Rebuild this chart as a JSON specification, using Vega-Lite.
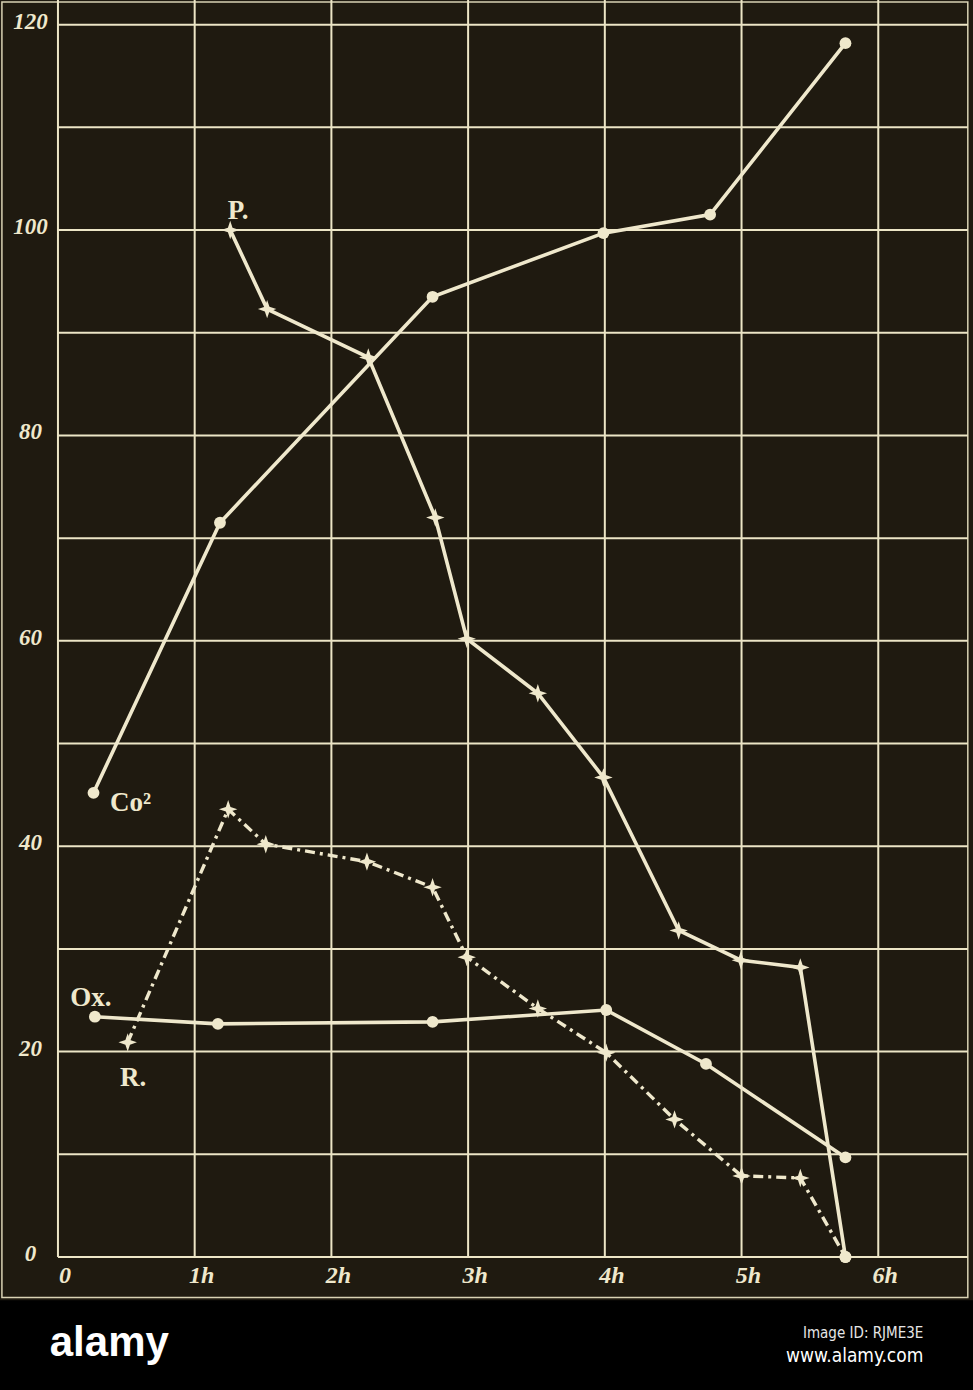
{
  "$schema": "https://vega.github.io/schema/vega-lite/v6.json",
  "width": 973,
  "height": 1390,
  "autosize": {"type": "none"},
  "padding": 0,
  "background": "#000000",
  "data": {"values": [{}]},
  "datasets": {
    "series": [
      {"s": "CO2", "t": 0.26, "v": 45.2},
      {"s": "CO2", "t": 1.185, "v": 71.5},
      {"s": "CO2", "t": 2.74, "v": 93.5},
      {"s": "CO2", "t": 3.99, "v": 99.7},
      {"s": "CO2", "t": 4.77, "v": 101.5},
      {"s": "CO2", "t": 5.76, "v": 118.2},
      {"s": "P", "t": 1.26, "v": 100},
      {"s": "P", "t": 1.53, "v": 92.3},
      {"s": "P", "t": 2.27, "v": 87.6},
      {"s": "P", "t": 2.76, "v": 72},
      {"s": "P", "t": 2.99, "v": 60.2},
      {"s": "P", "t": 3.51, "v": 54.9},
      {"s": "P", "t": 3.99, "v": 46.7},
      {"s": "P", "t": 4.54, "v": 31.8},
      {"s": "P", "t": 4.995, "v": 28.9},
      {"s": "P", "t": 5.43, "v": 28.2},
      {"s": "P", "t": 5.76, "v": 0},
      {"s": "Ox", "t": 0.27, "v": 23.4},
      {"s": "Ox", "t": 1.17, "v": 22.7},
      {"s": "Ox", "t": 2.74, "v": 22.9},
      {"s": "Ox", "t": 4.01, "v": 24.05},
      {"s": "Ox", "t": 4.74, "v": 18.8},
      {"s": "Ox", "t": 5.76, "v": 9.7},
      {"s": "R", "t": 0.51, "v": 20.9},
      {"s": "R", "t": 1.245, "v": 43.6},
      {"s": "R", "t": 1.52, "v": 40.2},
      {"s": "R", "t": 2.26, "v": 38.5},
      {"s": "R", "t": 2.74, "v": 36},
      {"s": "R", "t": 2.99, "v": 29.2},
      {"s": "R", "t": 3.51, "v": 24.2},
      {"s": "R", "t": 4.01, "v": 19.9},
      {"s": "R", "t": 4.51, "v": 13.4},
      {"s": "R", "t": 5.0, "v": 7.9},
      {"s": "R", "t": 5.43, "v": 7.7},
      {"s": "R", "t": 5.76, "v": 0}
    ],
    "hgrid": [
      {"v": 0}, {"v": 10}, {"v": 20}, {"v": 30}, {"v": 40}, {"v": 50}, {"v": 60},
      {"v": 70}, {"v": 80}, {"v": 90}, {"v": 100}, {"v": 110}, {"v": 120}
    ],
    "vgrid": [
      {"t": 0}, {"t": 1}, {"t": 2}, {"t": 3}, {"t": 4}, {"t": 5}, {"t": 6}
    ],
    "ylabels": [
      {"label": "0", "v": 0},
      {"label": "20", "v": 20},
      {"label": "40", "v": 40},
      {"label": "60", "v": 60},
      {"label": "80", "v": 80},
      {"label": "100", "v": 100},
      {"label": "120", "v": 120}
    ],
    "xlabels": [
      {"label": "0", "t": 0},
      {"label": "1h", "t": 1},
      {"label": "2h", "t": 2},
      {"label": "3h", "t": 3},
      {"label": "4h", "t": 4},
      {"label": "5h", "t": 5},
      {"label": "6h", "t": 6}
    ],
    "names": [
      {"label": "P.", "t": 1.317, "v": 101.9},
      {"label": "Co²", "t": 0.53, "v": 44.2},
      {"label": "Ox.", "t": 0.24, "v": 25.2},
      {"label": "R.", "t": 0.55, "v": 17.4}
    ]
  },
  "encoding": {
    "x": {"type": "quantitative", "scale": {"domain": [-0.424, 6.693], "nice": false, "zero": false}, "axis": null},
    "y": {"type": "quantitative", "scale": {"domain": [-12.95, 122.4], "nice": false, "zero": false}, "axis": null}
  },
  "layer": [
    {
      "mark": {"type": "rect", "fill": "#000000"},
      "encoding": {
        "x": {"datum": -0.424},
        "x2": {"datum": 6.693},
        "y": {"datum": -4.2},
        "y2": {"datum": -12.95}
      }
    },
    {
      "mark": {"type": "rect", "filled": false, "stroke": "#d9d2b4", "strokeWidth": 1.5},
      "encoding": {
        "x": {"datum": -0.41},
        "x2": {"datum": 6.655},
        "y": {"datum": 122.2},
        "y2": {"datum": -3.95}
      }
    },
    {
      "data": {"name": "hgrid"},
      "mark": {"type": "rule", "stroke": "#ece5c6", "strokeWidth": 2},
      "encoding": {
        "x": {"datum": 0},
        "x2": {"datum": 6.655},
        "y": {"field": "v", "type": "quantitative"}
      }
    },
    {
      "data": {"name": "vgrid"},
      "mark": {"type": "rule", "stroke": "#ece5c6", "strokeWidth": 2},
      "encoding": {
        "x": {"field": "t", "type": "quantitative"},
        "y": {"datum": 0},
        "y2": {"datum": 122.4}
      }
    },
    {
      "data": {"name": "series"},
      "transform": [{"filter": "datum.s != 'R'"}],
      "mark": {"type": "line", "stroke": "#efe8cc", "strokeWidth": 3.6},
      "encoding": {
        "x": {"field": "t", "type": "quantitative"},
        "y": {"field": "v", "type": "quantitative"},
        "detail": {"field": "s"}
      }
    },
    {
      "data": {"name": "series"},
      "transform": [{"filter": "datum.s == 'R'"}],
      "mark": {"type": "line", "stroke": "#efe8cc", "strokeWidth": 3.4, "strokeDash": [10, 5, 3, 5]},
      "encoding": {
        "x": {"field": "t", "type": "quantitative"},
        "y": {"field": "v", "type": "quantitative"}
      }
    },
    {
      "data": {"name": "series"},
      "transform": [{"filter": "datum.s == 'CO2' || datum.s == 'Ox' || datum.v == 0"}],
      "mark": {"type": "point", "shape": "circle", "filled": true, "fill": "#efe8cc", "size": 140, "opacity": 1},
      "encoding": {
        "x": {"field": "t", "type": "quantitative"},
        "y": {"field": "v", "type": "quantitative"}
      }
    },
    {
      "data": {"name": "series"},
      "transform": [{"filter": "(datum.s == 'P' || datum.s == 'R') && datum.v > 0"}],
      "mark": {
        "type": "point",
        "shape": "M0,-1L0.25,-0.25L1,0L0.25,0.25L0,1L-0.25,0.25L-1,0L-0.25,-0.25Z",
        "filled": true,
        "fill": "#efe8cc",
        "size": 340,
        "opacity": 1
      },
      "encoding": {
        "x": {"field": "t", "type": "quantitative"},
        "y": {"field": "v", "type": "quantitative"}
      }
    },
    {
      "data": {"name": "ylabels"},
      "mark": {
        "type": "text",
        "font": "Liberation Serif",
        "fontStyle": "italic",
        "fontWeight": "bold",
        "fontSize": 23,
        "fill": "#efe8cc",
        "align": "center",
        "baseline": "middle",
        "dy": -3
      },
      "encoding": {
        "x": {"datum": -0.2},
        "y": {"field": "v", "type": "quantitative"},
        "text": {"field": "label"}
      }
    },
    {
      "data": {"name": "xlabels"},
      "mark": {
        "type": "text",
        "font": "Liberation Serif",
        "fontStyle": "italic",
        "fontWeight": "bold",
        "fontSize": 24,
        "fill": "#efe8cc",
        "align": "center",
        "baseline": "middle",
        "dx": 7
      },
      "encoding": {
        "x": {"field": "t", "type": "quantitative"},
        "y": {"datum": -1.85},
        "text": {"field": "label"}
      }
    },
    {
      "data": {"name": "names"},
      "mark": {
        "type": "text",
        "font": "Liberation Serif",
        "fontWeight": "bold",
        "fontSize": 27,
        "fill": "#efe8cc",
        "align": "center",
        "baseline": "middle"
      },
      "encoding": {
        "x": {"field": "t", "type": "quantitative"},
        "y": {"field": "v", "type": "quantitative"},
        "text": {"field": "label"}
      }
    },
    {
      "mark": {
        "type": "text",
        "text": "alamy",
        "font": "Liberation Sans",
        "fontWeight": "bold",
        "fontSize": 42,
        "fill": "#ffffff",
        "align": "left",
        "baseline": "middle",
        "letterSpacing": -2.5
      },
      "encoding": {
        "x": {"datum": -0.06},
        "y": {"datum": -8.4}
      }
    },
    {
      "mark": {
        "type": "text",
        "text": "Image ID: RJME3E",
        "font": "DejaVu Sans Condensed",
        "fontSize": 15,
        "fill": "#e6e6e6",
        "align": "right",
        "baseline": "middle"
      },
      "encoding": {
        "x": {"datum": 6.33},
        "y": {"datum": -7.4}
      }
    },
    {
      "mark": {
        "type": "text",
        "text": "www.alamy.com",
        "font": "DejaVu Sans Condensed",
        "fontSize": 19,
        "fill": "#ffffff",
        "align": "right",
        "baseline": "middle"
      },
      "encoding": {
        "x": {"datum": 6.33},
        "y": {"datum": -9.65}
      }
    }
  ],
  "config": {
    "view": {"fill": "#1f1a10", "stroke": null}
  }
}
